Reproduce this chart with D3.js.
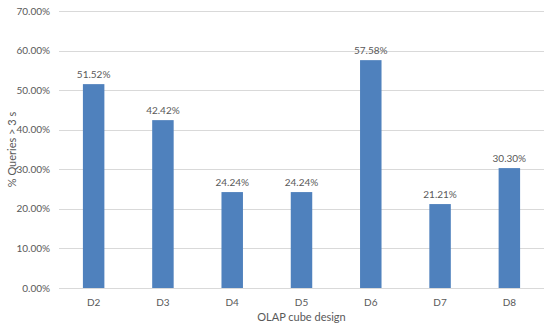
<!DOCTYPE html>
<html>
<head>
<meta charset="utf-8">
<script src="https://cdn.jsdelivr.net/npm/d3@7"></script>
<style>
  body { margin: 0; background: #fff; }
  text { font-family: Lato, "Open Sans", sans-serif; fill: #595959; }
</style>
</head>
<body>
<script>
const categories = ["D2", "D3", "D4", "D5", "D6", "D7", "D8"];
const values = [51.52, 42.42, 24.24, 24.24, 57.58, 21.21, 30.30];
const yTicks = [0, 10, 20, 30, 40, 50, 60, 70];

const width = 550, height = 328;
const margin = { top: 11, right: 6, bottom: 40, left: 59 };

const svg = d3.select("body").append("svg")
    .attr("width", width)
    .attr("height", height);

const x = d3.scaleBand()
    .domain(categories)
    .range([margin.left, width - margin.right])
    .paddingInner(0.69)
    .paddingOuter(0.345);

const y = d3.scaleLinear()
    .domain([0, 70])
    .range([height - margin.bottom, margin.top]);

// gridlines
svg.append("g")
    .selectAll("line")
    .data(yTicks)
    .enter()
    .append("line")
    .attr("x1", margin.left)
    .attr("x2", width - margin.right)
    .attr("y1", d => Math.round(y(d)) + 0.5)
    .attr("y2", d => Math.round(y(d)) + 0.5)
    .attr("stroke", "#d9d9d9")
    .attr("stroke-width", 1);

// y tick labels
svg.append("g")
    .selectAll("text")
    .data(yTicks)
    .enter()
    .append("text")
    .attr("x", 50)
    .attr("y", d => y(d))
    .attr("dy", "0.35em")
    .attr("text-anchor", "end")
    .attr("font-size", 10)
    .text(d => d.toFixed(2) + "%");

// bars
svg.append("g")
    .selectAll("rect")
    .data(values)
    .enter()
    .append("rect")
    .attr("x", (d, i) => x(categories[i]))
    .attr("y", d => y(d))
    .attr("width", x.bandwidth())
    .attr("height", d => y(0) - y(d))
    .attr("fill", "#4f81bd");

// data labels
svg.append("g")
    .selectAll("text")
    .data(values)
    .enter()
    .append("text")
    .attr("x", (d, i) => x(categories[i]) + x.bandwidth() / 2)
    .attr("y", d => y(d) - 10)
    .attr("dy", "0.35em")
    .attr("text-anchor", "middle")
    .attr("font-size", 10)
    .text(d => d.toFixed(2) + "%");

// x tick labels
svg.append("g")
    .selectAll("text")
    .data(categories)
    .enter()
    .append("text")
    .attr("x", d => x(d) + x.bandwidth() / 2)
    .attr("y", y(0) + 14)
    .attr("dy", "0.35em")
    .attr("text-anchor", "middle")
    .attr("font-size", 10)
    .text(d => d);

// axis titles
svg.append("text")
    .attr("x", (margin.left + width - margin.right) / 2)
    .attr("y", 317)
    .attr("dy", "0.35em")
    .attr("text-anchor", "middle")
    .attr("font-size", 11)
    .text("OLAP cube design");

svg.append("text")
    .attr("transform", `translate(12, ${(margin.top + height - margin.bottom) / 2}) rotate(-90)`)
    .attr("dy", "0.35em")
    .attr("text-anchor", "middle")
    .attr("font-size", 11)
    .text("% Queries > 3 s");
</script>
</body>
</html>
